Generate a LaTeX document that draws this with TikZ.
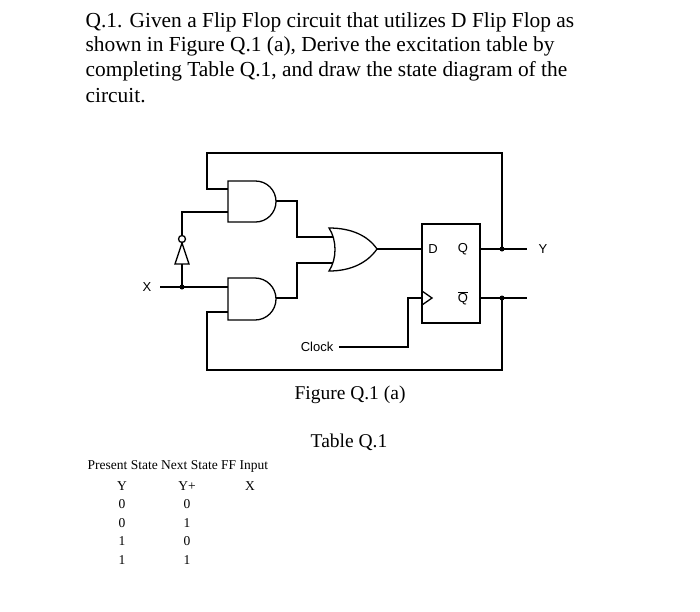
\documentclass[tikz,border=0pt]{standalone}
\usepackage{fontspec}
\setmainfont{Liberation Serif}
\newfontfamily\lsans{Liberation Sans}
\begin{document}
\begin{tikzpicture}[x=1pt, y=-1pt, line width=1.3pt,
	qtext/.style = {anchor=west, inner sep=0, font=\fontsize{21.4}{24}\selectfont},
	lbl/.style = {inner sep=0, font=\lsans\fontsize{13}{15}\selectfont},
	tab/.style = {inner sep=0, font=\fontsize{13.5}{15}\selectfont},
	dot/.style = {circle, fill=black, draw=none, inner sep=0, minimum size=5pt}]
	\useasboundingbox (0,0) rectangle (700,611);

	% question
	\node[qtext] (q1) at (85,22) {Q.1. Given a Flip Flop circuit that utilizes D Flip Flop as};
	\node[qtext] (q2) at (85,46) {shown in Figure Q.1 (a), Derive the excitation table by};
	\node[qtext] (q3) at (85,71) {completing Table Q.1, and draw the state diagram of the};
	\node[qtext] (q4) at (85,96) {circuit.};

	% gates
	\draw (228,181) -- (255.5,181) arc[start angle=-90, end angle=90, radius=20.5] -- (228,222) -- cycle;
	\draw (228,278) -- (255,278) arc[start angle=-90, end angle=90, radius=21] -- (228,320) -- cycle;
	\draw (329,228) .. controls (337,240) and (337,259) .. (329,271)
		.. controls (352,271) and (368,262) .. (377,249)
		.. controls (368,236) and (352,228) .. (329,228) -- cycle;
	\draw (182,243) -- (175,264) -- (189,264) -- cycle;
	\draw (182,239) circle[radius=3.5];

	% flip flop
	\draw (422,224) rectangle (480,323);
	\draw (422,291) -- (432,298) -- (422,305);
	\node[lbl] (d) at (433,249) {D};
	\node[lbl] (q) at (463,249) {Q};
	\node[lbl] (qb) at (463,298) {$\overline{\mbox{\lsans Q}}$};

	% wiring
	\coordinate (y) at (527,249);
	\coordinate (qn) at (527,298);
	\coordinate (j1) at (502,249);
	\coordinate (j2) at (502,298);
	\coordinate (j3) at (182,287);
	\draw (480,249) -- (y);
	\draw (480,298) -- (qn);
	\draw (j1) -- (502,153) -- (207,153) -- (207,189) -- (228,189);
	\draw (182,235.5) -- (182,212) -- (228,212);
	\draw (182,264) -- (j3);
	\draw (160,287) -- (228,287);
	\draw (j2) -- (502,370) -- (207,370) -- (207,312) -- (228,312);
	\draw (276,201) -- (297,201) -- (297,237) -- (333,237);
	\draw (276,298) -- (297,298) -- (297,263) -- (333,263);
	\draw (377,249) -- (422,249);
	\node[dot] (d1) at (j1) {};
	\node[dot] (d2) at (j2) {};
	\node[dot] (d3) at (j3) {};
	\node[lbl] (x) at (147,287) {X};
	\node[lbl] (yl) at (543,249) {Y};
	\node[lbl] (clk) at (317,347) {Clock};
	\draw (clk.east) ++(5,0) -- (408,347) -- (408,298) -- (422,298);

	% captions
	\node[inner sep=0, font=\fontsize{19.5}{22}\selectfont] (fig) at (350,395) {Figure Q.1 (a)};
	\node[inner sep=0, font=\fontsize{19.5}{22}\selectfont] (tab) at (349,442) {Table Q.1};

	% table
	\node[tab, anchor=west] (hd) at (87,466) {Present State Next State FF Input};
	\node[tab] (c1) at (122,486) {Y};
	\node[tab] (c2) at (187,486) {Y+};
	\node[tab] (c3) at (250,486) {X};
	\foreach \a/\b [count=\i] in {0/0,0/1,1/0,1/1} {
		\node[tab] (r\i a) at (122,486+18.5*\i) {\a};
		\node[tab] (r\i b) at (187,486+18.5*\i) {\b};
	}
\end{tikzpicture}
\end{document}
